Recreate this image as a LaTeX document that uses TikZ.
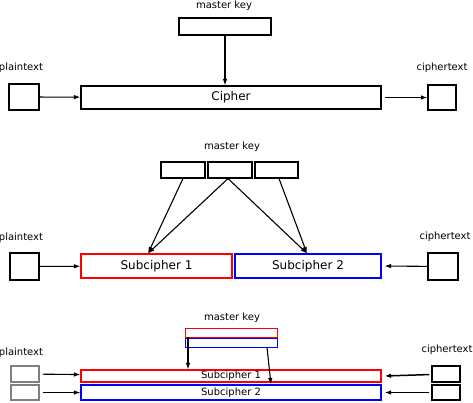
\documentclass[tikz,border=0pt]{standalone}
\usepackage{fontspec}
\setmainfont{DejaVu Sans}
\usepackage{tikz}
\usetikzlibrary{calc}
\usetikzlibrary{arrows.meta}

\begin{document}
\begin{tikzpicture}[x=1pt, y=-1pt, line width=1.1pt,
    box/.style={draw, inner sep=0pt, minimum width=#1},
    lbl/.style={anchor=base, inner sep=0pt, font=\fontsize{10}{12}\selectfont},
    arr/.style={-{Latex[length=6.5pt, width=4.5pt]}},
    big/.style={font=\fontsize{12}{14}\selectfont},
    mid/.style={font=\fontsize{12}{14}\selectfont},
    small/.style={font=\fontsize{10}{11}\selectfont}]
    \useasboundingbox (0,0) rectangle (473,402);

    \node[lbl] (mkA) at (224, 8.5) {master key};
    \node[lbl] (ptlA) at (21, 70) {plaintext};
    \node[lbl] (ctlA) at (442, 70) {ciphertext};
    \node[box=92pt, minimum height=17pt] (keyA) at (225, 26.5) {};
    \node[box=300pt, minimum height=23pt, big] (cipher) at (231, 97.5) {Cipher};
    \node[box=30pt, minimum height=26pt] (ptA) at (24, 97) {};
    \node[box=28pt, minimum height=25pt] (ctA) at (442, 97.5) {};
    \draw[arr] (keyA) -- (keyA |- cipher.north);
    \draw[arr] (ptA) -- (cipher);
    \draw[arr, shorten <=3pt] (cipher) -- (ctA);

    \node[lbl] (mkB) at (232, 149.3) {master key};
    \node[lbl] (ptlB) at (21, 240.7) {plaintext};
    \node[lbl] (ctlB) at (445, 239) {ciphertext};
    \node[box=44pt, minimum height=16pt] (kB1) at (183, 170) {};
    \node[box=44pt, minimum height=16pt] (kB2) at (230, 170) {};
    \node[box=43pt, minimum height=16pt] (kB3) at (276.5, 170) {};
    \node[box=151pt, minimum height=24pt, draw=red, mid] (subB1) at (156.5, 266) {Subcipher 1};
    \node[box=146pt, minimum height=24pt, draw=blue, mid] (subB2) at (308, 266) {Subcipher 2};
    \node[box=29pt, minimum height=27pt] (ptB) at (24.5, 266.5) {};
    \node[box=30pt, minimum height=27pt] (ctB) at (443, 266.5) {};
    \draw[arr] (kB1.south) -- ([xshift=-8.5pt]subB1.north);
    \draw[arr] ([xshift=-2pt]kB2.south) -- ([xshift=-8.5pt]subB1.north);
    \draw[arr] ([xshift=-2pt]kB2.south) -- ([xshift=-1pt]subB2.north);
    \draw[arr] ([xshift=2.5pt]kB3.south) -- ([xshift=-1pt]subB2.north);
    \draw[arr] (ptB) -- (subB1);
    \draw[arr] (ctB) -- ([xshift=3pt]subB2.east);

    \node[lbl] (mkC) at (232, 320) {master key};
    \node[lbl] (ptlC) at (21, 355) {plaintext};
    \node[lbl] (ctlC) at (447, 352.7) {ciphertext};
    \node[box=92pt, minimum height=9pt, draw=red, line width=0.8pt] (kCr) at (231, 332.5) {};
    \node[box=92pt, minimum height=9pt, draw=blue, line width=0.8pt] (kCb) at (231, 342.5) {};
    \node[box=300pt, minimum height=12pt, draw=red, small] (subC1) at (231, 376) {Subcipher 1};
    \node[box=300pt, minimum height=15pt, draw=blue, small] (subC2) at (231, 392.5) {Subcipher 2};
    \node[box=28pt, minimum height=16pt, draw=gray] (ptC1) at (25, 374) {};
    \node[box=28pt, minimum height=15pt, draw=gray] (ptC2) at (25, 392.5) {};
    \node[box=28pt, minimum height=16pt] (ctC1) at (446, 374) {};
    \node[box=28pt, minimum height=15pt] (ctC2) at (446, 392.5) {};
    \draw[arr] ([xshift=-43pt]kCr.south) -- ([xshift=-43pt]subC1.north);
    \draw[arr] ([xshift=36pt]kCb.south) -- ([xshift=40pt]subC2.north);
    \draw[arr, shorten <=3pt] (ptC1) -- (subC1);
    \draw[arr, shorten <=3pt] (ptC2) -- (subC2);
    \draw[arr, line width=1.5pt, shorten <=2pt] (ctC1) -- ([xshift=3pt]subC1.east);
    \draw[arr, line width=1.5pt, shorten <=2pt] (ctC2) -- ([xshift=3pt]subC2.east);
\end{tikzpicture}
\end{document}
